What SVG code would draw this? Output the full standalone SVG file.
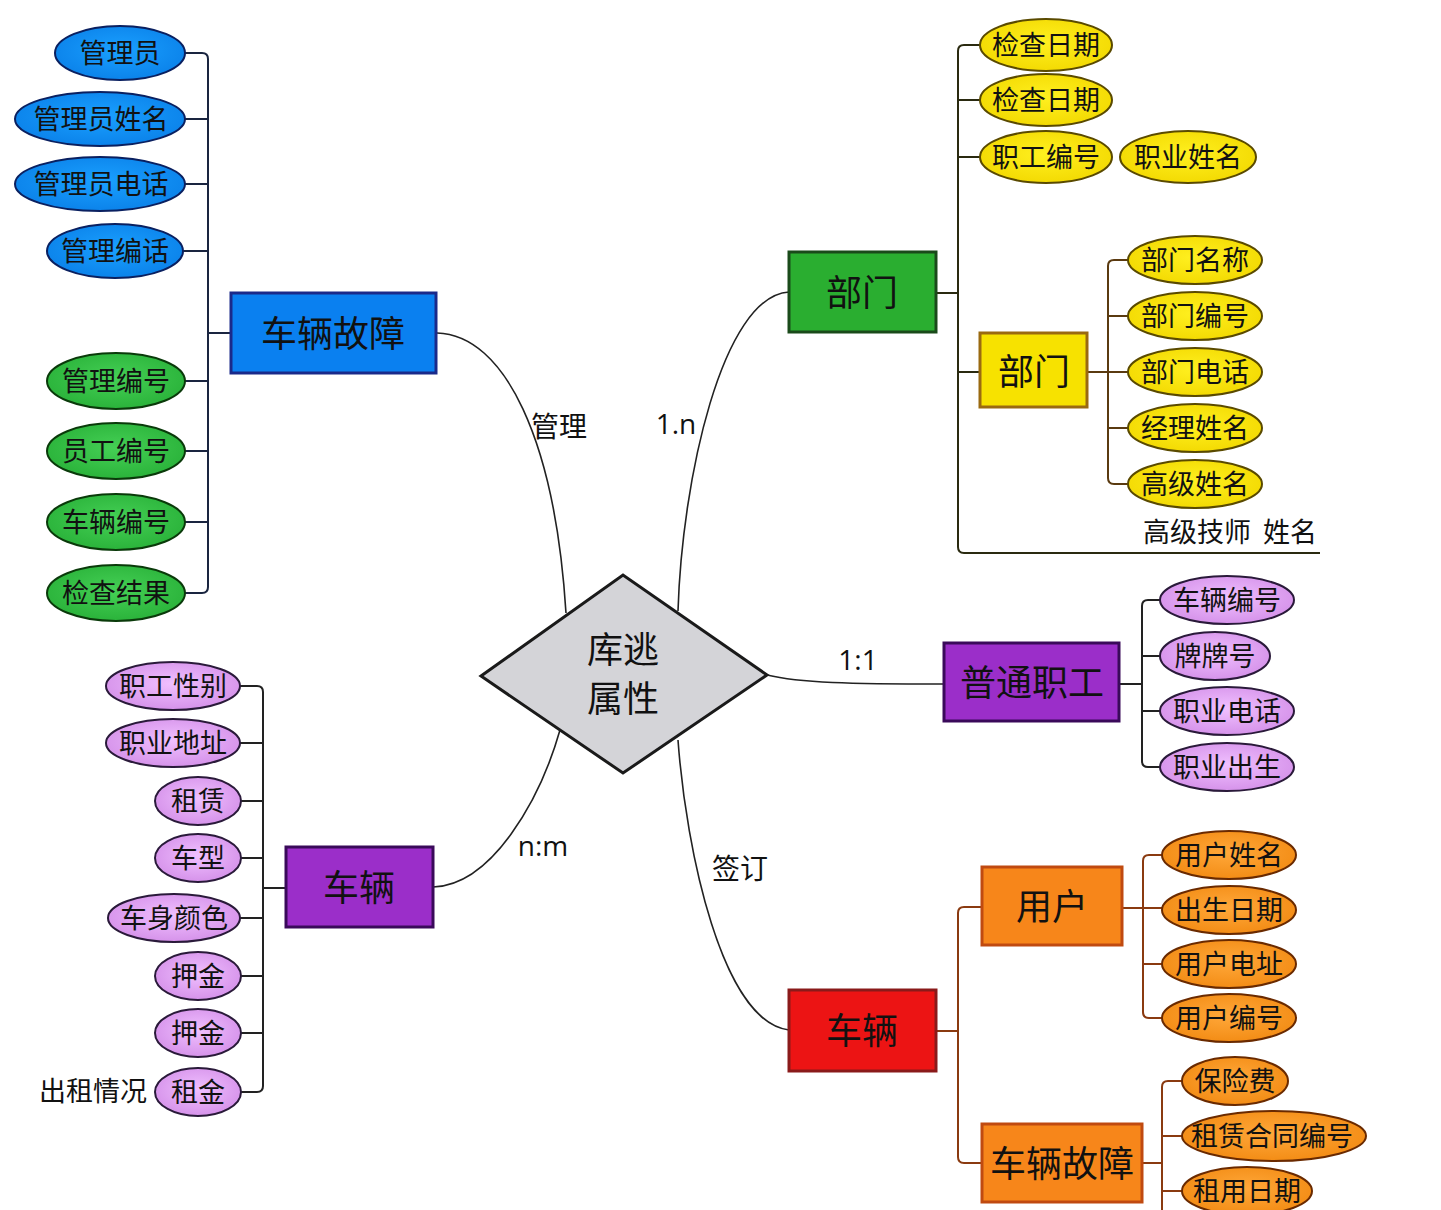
<svg xmlns="http://www.w3.org/2000/svg" width="1441" height="1210" viewBox="0 0 1441 1210">
<defs>
<style>
text{font-family:"Noto Sans CJK SC","Noto Sans",sans-serif;text-anchor:middle;dominant-baseline:central;fill:#111;transform:translateY(-2px)}
.at{font-size:27px}
.et{font-size:36px}
.lbl{font-size:28px}
.num{font-family:"Open Sans","Noto Sans",sans-serif}
.blue{fill:url(#gBlue);stroke:#0a2060;stroke-width:2}
.green{fill:url(#gGreen);stroke:#0a3a0a;stroke-width:2}
.yellow{fill:url(#gYellow);stroke:#5a4a00;stroke-width:2}
.lpurple{fill:url(#gLPurple);stroke:#2a1a3a;stroke-width:2}
.orange{fill:url(#gOrange);stroke:#6a2a00;stroke-width:2}
.br{fill:none;stroke-width:2}
.conn{fill:none;stroke:#222;stroke-width:1.6}
</style>
<radialGradient id="gBlue" cx="50%" cy="45%" r="60%"><stop offset="0" stop-color="#1aa0ff"/><stop offset="1" stop-color="#0a80e8"/></radialGradient>
<radialGradient id="gGreen" cx="50%" cy="45%" r="60%"><stop offset="0" stop-color="#45d055"/><stop offset="1" stop-color="#28b038"/></radialGradient>
<radialGradient id="gYellow" cx="50%" cy="45%" r="60%"><stop offset="0" stop-color="#fff020"/><stop offset="1" stop-color="#f2d800"/></radialGradient>
<radialGradient id="gLPurple" cx="50%" cy="45%" r="60%"><stop offset="0" stop-color="#f0c0ff"/><stop offset="1" stop-color="#d38ee8"/></radialGradient>
<radialGradient id="gOrange" cx="50%" cy="45%" r="60%"><stop offset="0" stop-color="#ffa83a"/><stop offset="1" stop-color="#f28a12"/></radialGradient>
</defs>
<rect width="1441" height="1210" fill="#ffffff"/>

<g id="connectors">
<path class="conn" d="M437,333 C505,335 555,440 566,613"/>
<path class="conn" d="M678,611 C682,480 722,296 789,292"/>
<path class="conn" d="M767,675 C800,683 850,684 944,684"/>
<path class="conn" d="M560,730 C540,800 492,885 433,887"/>
<path class="conn" d="M678,740 C686,850 722,1022 789,1030"/>
<text class="lbl" x="559" y="427">管理</text>
<text class="lbl num" x="676" y="425">1.n</text>
<text class="lbl num" x="858" y="661">1:1</text>
<text class="lbl num" x="543" y="847">n:m</text>
<text class="lbl" x="740" y="869">签订</text>

<path class="br" stroke="#1a2540" d="M185,53 H202 Q208,53 208,59 V587 Q208,593 202,593 H185 M185,119 H208 M185,184 H208 M183,251 H208 M208,333 H230 M185,381 H208 M185,451 H208 M185,522 H208"/>
<path class="br" stroke="#2a2a10" d="M937,293 H958 M980,45 H964 Q958,45 958,51 V547 Q958,553 964,553 H1320 M980,100 H958 M980,157 H958 M958,372 H980"/>
<path class="br" stroke="#5a3a10" d="M1088,372 H1128 M1128,260 H1114 Q1108,260 1108,266 V478 Q1108,484 1114,484 H1128 M1108,316 H1128 M1108,428 H1128"/>
<path class="br" stroke="#222" d="M1120,684 H1142 M1160,600 H1148 Q1142,600 1142,606 V761 Q1142,767 1148,767 H1160 M1142,656 H1160 M1142,711 H1160"/>
<path class="br" stroke="#8a3a10" d="M937,1031 H958 M982,907 H964 Q958,907 958,913 V1157 Q958,1163 964,1163 H982"/>
<path class="br" stroke="#8a3a10" d="M1123,908 H1162 M1162,855 H1149 Q1143,855 1143,861 V1012 Q1143,1018 1149,1018 H1162 M1143,964 H1162"/>
<path class="br" stroke="#8a3a10" d="M1143,1163 H1162 M1182,1081 H1168 Q1162,1081 1162,1087 V1210 M1162,1136 H1182 M1162,1191 H1182"/>
<path class="br" stroke="#222" d="M240,686 H257 Q263,686 263,692 V1086 Q263,1092 257,1092 H240 M240,743 H263 M240,801 H263 M240,858 H263 M263,888 H286 M240,918 H263 M240,976 H263 M240,1033 H263"/>
</g>

<g id="center">
<polygon points="481,676 623,575 767,675 623,773" fill="#d4d4d8" stroke="#1a1a1a" stroke-width="3"/>
<text class="et" x="623" y="649">库逃</text>
<text class="et" x="623" y="698">属性</text>
</g>

<g id="fault-left">
<rect x="231" y="293" width="205" height="80" fill="#0a80f0" stroke="#1a2a8a" stroke-width="3"/>
<text class="et" x="333" y="333">车辆故障</text>
</g>
<g id="attr-admin"><ellipse class="blue" cx="120" cy="53" rx="65" ry="27"/><text class="at" x="120" y="53">管理员</text></g>
<g id="attr-admin-name"><ellipse class="blue" cx="100" cy="119" rx="85" ry="27"/><text class="at" x="101" y="119">管理员姓名</text></g>
<g id="attr-admin-tel"><ellipse class="blue" cx="100" cy="184" rx="85" ry="27"/><text class="at" x="101" y="184">管理员电话</text></g>
<g id="attr-admin-code"><ellipse class="blue" cx="115" cy="251" rx="68" ry="27"/><text class="at" x="115" y="251">管理编话</text></g>
<g id="attr-mgr-no"><ellipse class="green" cx="116" cy="381" rx="69" ry="28"/><text class="at" x="116" y="381">管理编号</text></g>
<g id="attr-emp-no"><ellipse class="green" cx="116" cy="451" rx="69" ry="28"/><text class="at" x="116" y="451">员工编号</text></g>
<g id="attr-car-no"><ellipse class="green" cx="116" cy="522" rx="69" ry="28"/><text class="at" x="116" y="522">车辆编号</text></g>
<g id="attr-result"><ellipse class="green" cx="116" cy="593" rx="69" ry="28"/><text class="at" x="116" y="593">检查结果</text></g>

<g id="dept-top">
<rect x="789" y="252" width="147" height="80" fill="#2aae30" stroke="#1a4a1a" stroke-width="3"/>
<text class="et" x="862" y="292">部门</text>
</g>
<g id="attr-date1"><ellipse class="yellow" cx="1046" cy="45" rx="66" ry="26"/><text class="at" x="1046" y="45">检查日期</text></g>
<g id="attr-date2"><ellipse class="yellow" cx="1046" cy="100" rx="66" ry="26"/><text class="at" x="1046" y="100">检查日期</text></g>
<g id="attr-staff-no"><ellipse class="yellow" cx="1046" cy="157" rx="66" ry="26"/><text class="at" x="1046" y="157">职工编号</text></g>
<g id="attr-staff-name"><ellipse class="yellow" cx="1188" cy="157" rx="68" ry="26"/><text class="at" x="1188" y="157">职业姓名</text></g>
<g id="dept-inner">
<rect x="980" y="333" width="107" height="74" fill="#f7e200" stroke="#9a6a10" stroke-width="3"/>
<text class="et" x="1034" y="371">部门</text>
</g>
<g id="attr-dept-name"><ellipse class="yellow" cx="1195" cy="260" rx="67" ry="24"/><text class="at" x="1195" y="260">部门名称</text></g>
<g id="attr-dept-no"><ellipse class="yellow" cx="1195" cy="316" rx="67" ry="24"/><text class="at" x="1195" y="316">部门编号</text></g>
<g id="attr-dept-tel"><ellipse class="yellow" cx="1195" cy="372" rx="67" ry="24"/><text class="at" x="1195" y="372">部门电话</text></g>
<g id="attr-mgr-name"><ellipse class="yellow" cx="1195" cy="428" rx="67" ry="24"/><text class="at" x="1195" y="428">经理姓名</text></g>
<g id="attr-senior-name"><ellipse class="yellow" cx="1195" cy="484" rx="67" ry="24"/><text class="at" x="1195" y="484">高级姓名</text></g>
<text class="at" x="1230" y="532" xml:space="preserve">高级技师  姓名</text>

<g id="staff">
<rect x="944" y="643" width="175" height="78" fill="#9b2ec9" stroke="#3a0a5a" stroke-width="3"/>
<text class="et" x="1032" y="682">普通职工</text>
</g>
<g id="attr-s-car"><ellipse class="lpurple" cx="1227" cy="600" rx="67" ry="24"/><text class="at" x="1227" y="600">车辆编号</text></g>
<g id="attr-s-plate"><ellipse class="lpurple" cx="1215" cy="656" rx="55" ry="24"/><text class="at" x="1215" y="656">牌牌号</text></g>
<g id="attr-s-tel"><ellipse class="lpurple" cx="1227" cy="711" rx="67" ry="24"/><text class="at" x="1227" y="711">职业电话</text></g>
<g id="attr-s-birth"><ellipse class="lpurple" cx="1227" cy="767" rx="67" ry="24"/><text class="at" x="1227" y="767">职业出生</text></g>

<g id="vehicle-red">
<rect x="789" y="990" width="147" height="81" fill="#ec1414" stroke="#8a1a1a" stroke-width="3"/>
<text class="et" x="862" y="1030">车辆</text>
</g>
<g id="user">
<rect x="982" y="867" width="140" height="78" fill="#f7861a" stroke="#c04a10" stroke-width="3"/>
<text class="et" x="1052" y="906">用户</text>
</g>
<g id="attr-u-name"><ellipse class="orange" cx="1229" cy="855" rx="67" ry="24"/><text class="at" x="1229" y="855">用户姓名</text></g>
<g id="attr-u-birth"><ellipse class="orange" cx="1229" cy="910" rx="67" ry="24"/><text class="at" x="1229" y="910">出生日期</text></g>
<g id="attr-u-addr"><ellipse class="orange" cx="1229" cy="964" rx="67" ry="24"/><text class="at" x="1229" y="964">用户电址</text></g>
<g id="attr-u-no"><ellipse class="orange" cx="1229" cy="1018" rx="67" ry="24"/><text class="at" x="1229" y="1018">用户编号</text></g>
<g id="fault-right">
<rect x="982" y="1124" width="160" height="78" fill="#f7861a" stroke="#c04a10" stroke-width="3"/>
<text class="et" x="1062" y="1163">车辆故障</text>
</g>
<g id="attr-insur"><ellipse class="orange" cx="1235" cy="1081" rx="53" ry="24"/><text class="at" x="1235" y="1081">保险费</text></g>
<g id="attr-contract"><ellipse class="orange" cx="1274" cy="1136" rx="92" ry="25"/><text class="at" x="1272" y="1136">租赁合同编号</text></g>
<g id="attr-rentdate"><ellipse class="orange" cx="1247" cy="1191" rx="65" ry="24"/><text class="at" x="1247" y="1191">租用日期</text></g>

<g id="vehicle-left">
<rect x="286" y="847" width="147" height="80" fill="#9b2ec9" stroke="#3a0a5a" stroke-width="3"/>
<text class="et" x="359" y="887">车辆</text>
</g>
<g id="attr-sex"><ellipse class="lpurple" cx="173" cy="686" rx="67" ry="24"/><text class="at" x="173" y="686">职工性别</text></g>
<g id="attr-addr"><ellipse class="lpurple" cx="173" cy="743" rx="67" ry="24"/><text class="at" x="173" y="743">职业地址</text></g>
<g id="attr-lease"><ellipse class="lpurple" cx="198" cy="801" rx="43" ry="24"/><text class="at" x="198" y="801">租赁</text></g>
<g id="attr-type"><ellipse class="lpurple" cx="198" cy="858" rx="43" ry="24"/><text class="at" x="198" y="858">车型</text></g>
<g id="attr-color"><ellipse class="lpurple" cx="174" cy="918" rx="66" ry="24"/><text class="at" x="174" y="918">车身颜色</text></g>
<g id="attr-dep1"><ellipse class="lpurple" cx="198" cy="976" rx="43" ry="24"/><text class="at" x="198" y="976">押金</text></g>
<g id="attr-dep2"><ellipse class="lpurple" cx="198" cy="1033" rx="43" ry="24"/><text class="at" x="198" y="1033">押金</text></g>
<g id="attr-rent"><ellipse class="lpurple" cx="198" cy="1092" rx="43" ry="24"/><text class="at" x="198" y="1092">租金</text></g>
<text class="at" x="93" y="1091">出租情况</text>
</svg>
